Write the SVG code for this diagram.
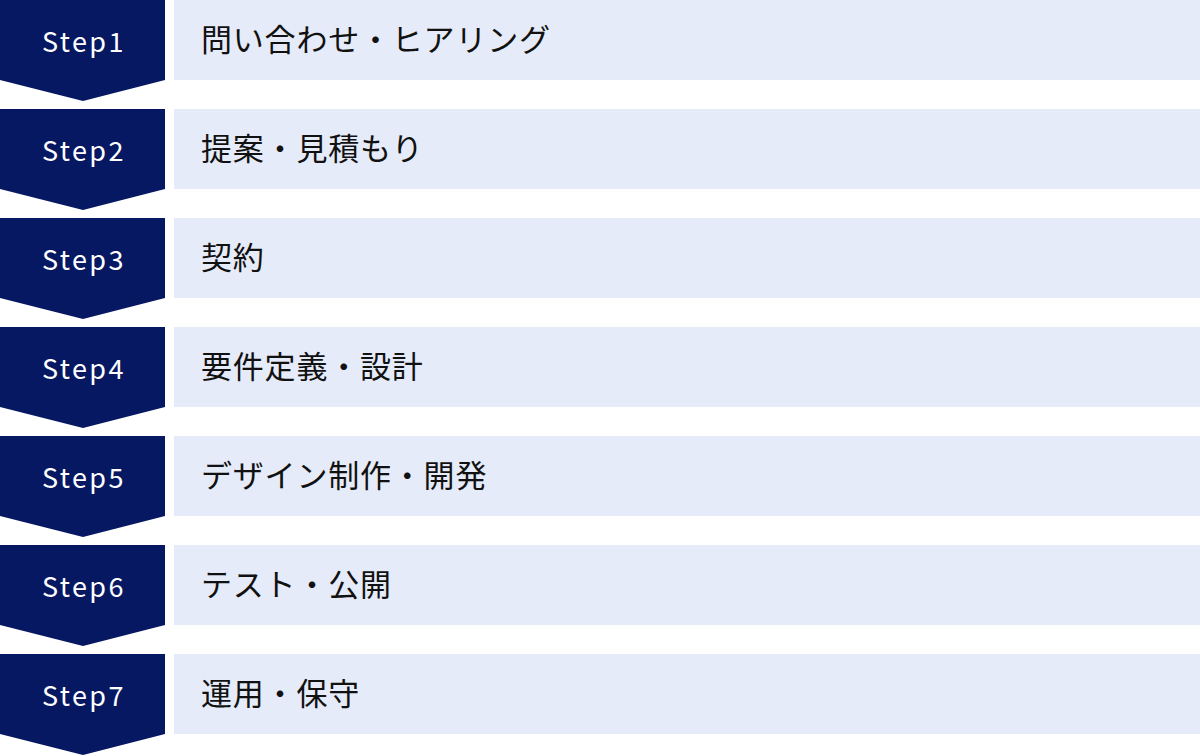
<svg xmlns="http://www.w3.org/2000/svg" width="1200" height="756" viewBox="0 0 1200 756">
<style>
.badge{fill:#061862}
.box{fill:#e5ebf8}
.st{font-family:"Noto Sans CJK JP","Noto Sans",sans-serif;font-size:27px;font-weight:400;fill:#ffffff;letter-spacing:2.4px;text-anchor:middle}
.lb{font-family:"Noto Sans CJK JP","Noto Sans",sans-serif;font-size:31px;fill:#111111;letter-spacing:0.8px}
</style>
<rect width="1200" height="756" fill="#ffffff"/>
<defs>
<path id="chev" d="M0 0 H165 V80 L83 101 L0 80 Z"/>
</defs>
<g id="step1" transform="translate(0,0)"><use href="#chev" class="badge"/><rect class="box" x="174" y="0" width="1026" height="80"/><text class="st" x="84" y="52">Step1</text><text class="lb" x="201" y="51">問い合わせ・ヒアリング</text></g>
<g id="step2" transform="translate(0,109)"><use href="#chev" class="badge"/><rect class="box" x="174" y="0" width="1026" height="80"/><text class="st" x="84" y="52">Step2</text><text class="lb" x="201" y="51">提案・見積もり</text></g>
<g id="step3" transform="translate(0,218)"><use href="#chev" class="badge"/><rect class="box" x="174" y="0" width="1026" height="80"/><text class="st" x="84" y="52">Step3</text><text class="lb" x="201" y="51">契約</text></g>
<g id="step4" transform="translate(0,327)"><use href="#chev" class="badge"/><rect class="box" x="174" y="0" width="1026" height="80"/><text class="st" x="84" y="52">Step4</text><text class="lb" x="201" y="51">要件定義・設計</text></g>
<g id="step5" transform="translate(0,436)"><use href="#chev" class="badge"/><rect class="box" x="174" y="0" width="1026" height="80"/><text class="st" x="84" y="52">Step5</text><text class="lb" x="201" y="51">デザイン制作・開発</text></g>
<g id="step6" transform="translate(0,545)"><use href="#chev" class="badge"/><rect class="box" x="174" y="0" width="1026" height="80"/><text class="st" x="84" y="52">Step6</text><text class="lb" x="201" y="51">テスト・公開</text></g>
<g id="step7" transform="translate(0,654)"><use href="#chev" class="badge"/><rect class="box" x="174" y="0" width="1026" height="80"/><text class="st" x="84" y="52">Step7</text><text class="lb" x="201" y="51">運用・保守</text></g>
<g id="connectors"/>
</svg>
